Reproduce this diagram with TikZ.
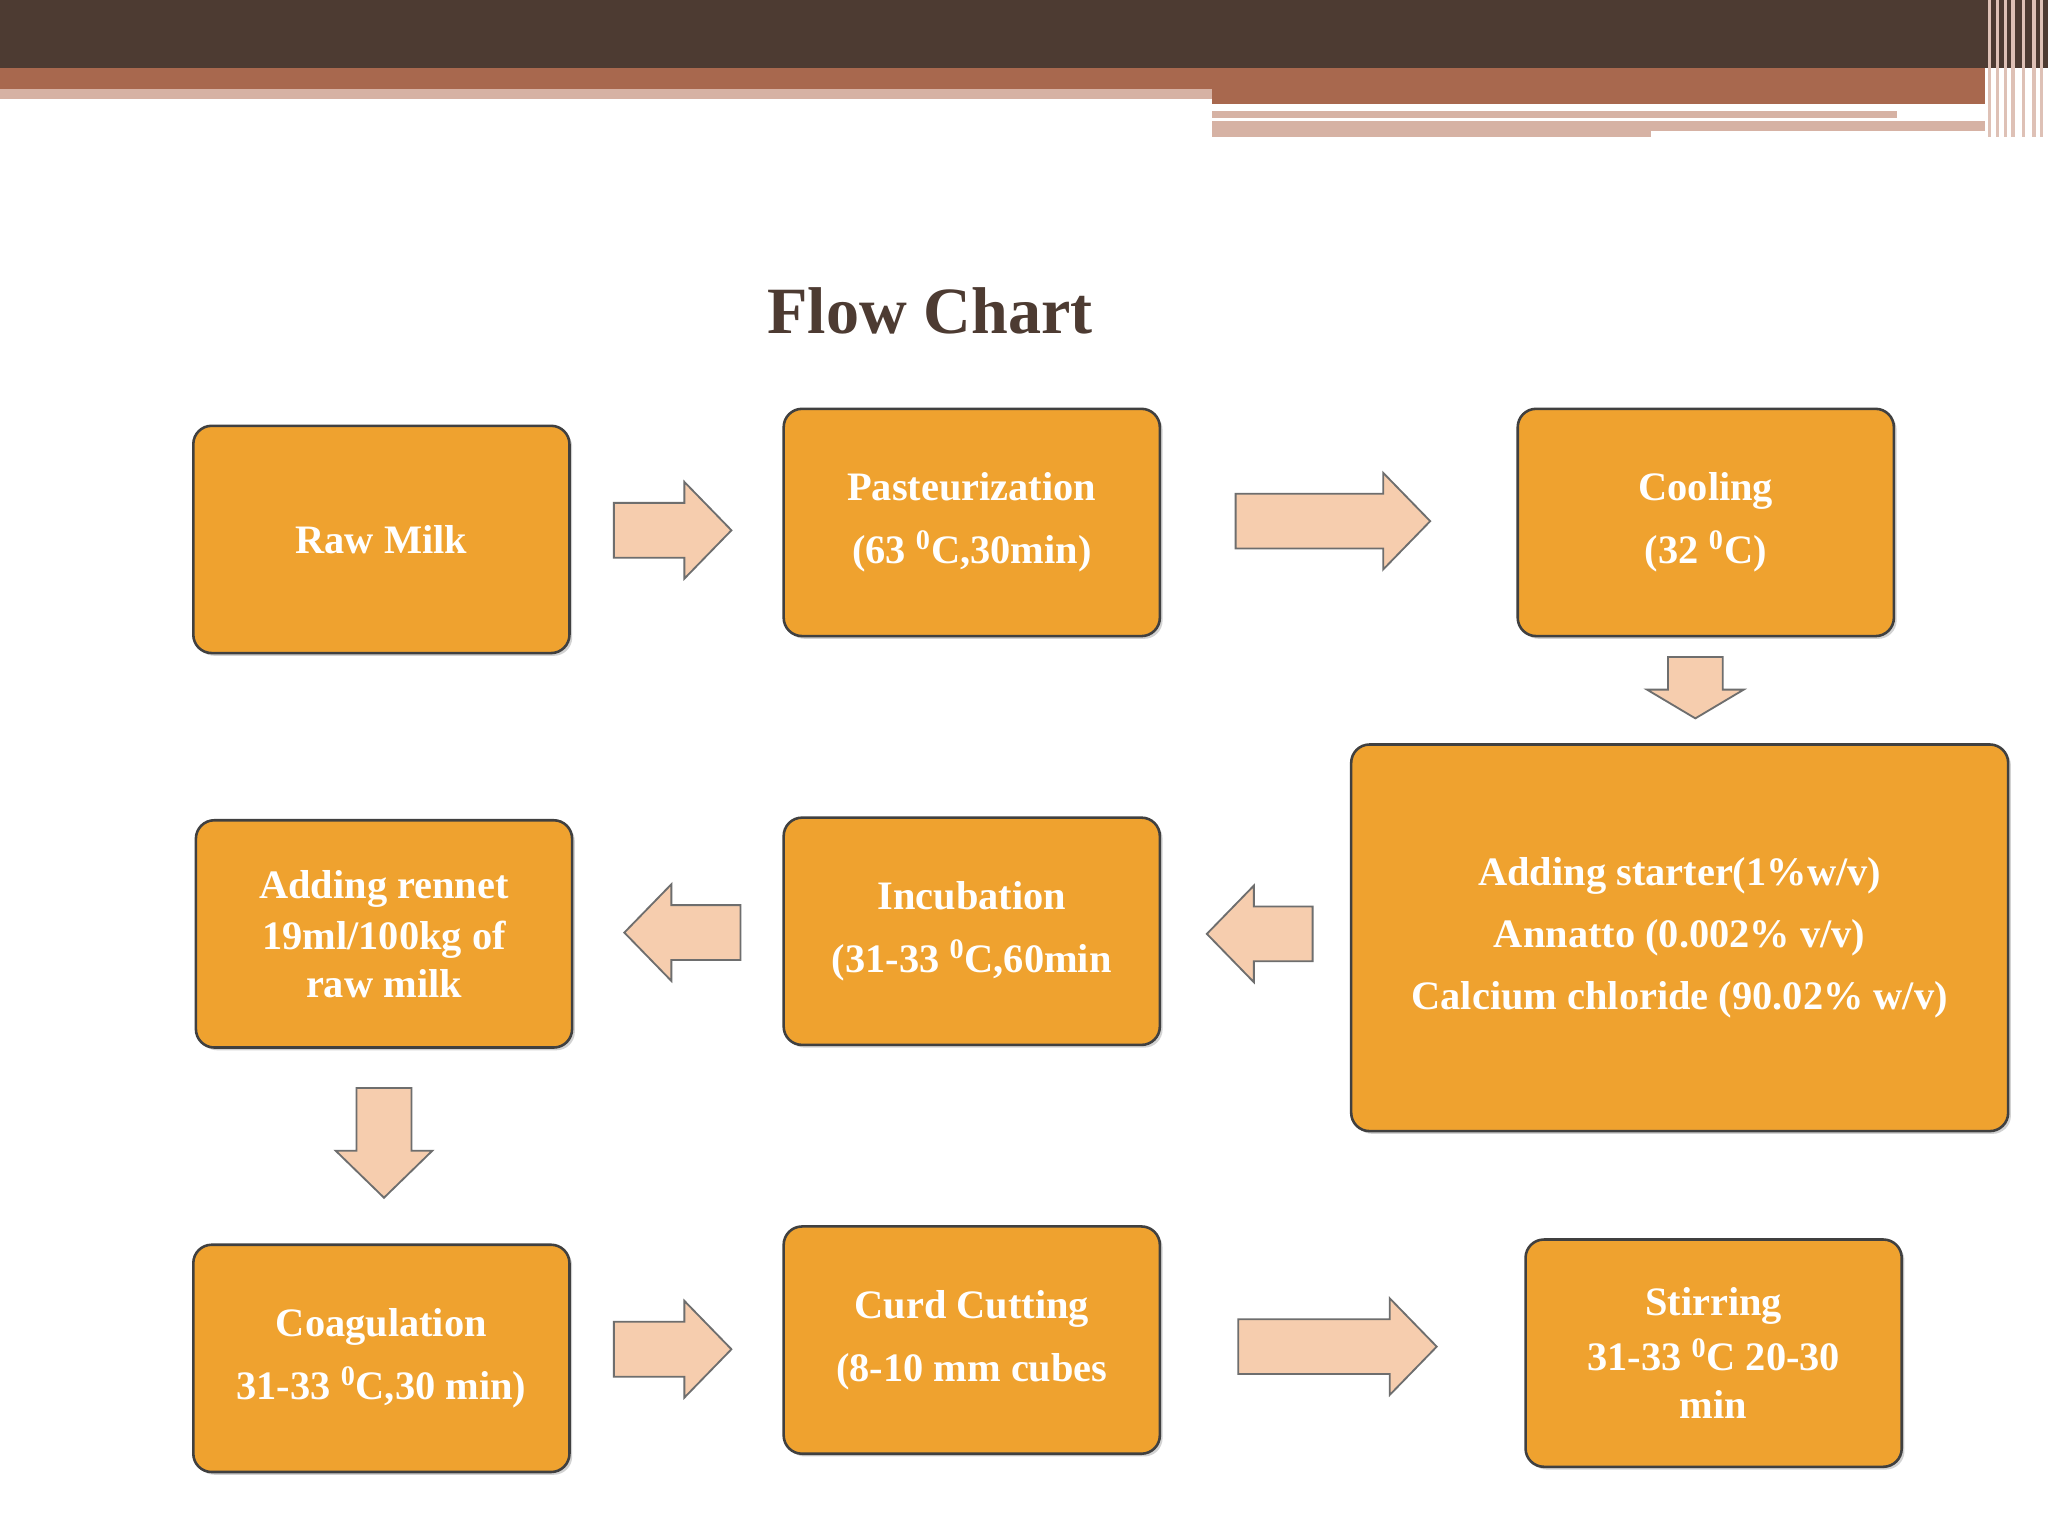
\documentclass[tikz,border=0pt]{standalone}
\usepackage{fontspec}
\setmainfont{Liberation Serif}
\usetikzlibrary{shadows}
\definecolor{dbrown}{HTML}{4D3B32}
\definecolor{rbrown}{HTML}{A8684E}
\definecolor{lbrown}{HTML}{D6B2A4}
\definecolor{boxo}{HTML}{EFA22F}
\definecolor{boxe}{HTML}{F7C96A}
\definecolor{arrf}{HTML}{F6CDAE}
\definecolor{arre}{HTML}{6E6E6E}
\tikzset{
  stepbox/.style={draw=black!75, line width=1.4pt, fill=boxo, rounded corners=10pt,
    drop shadow={shadow xshift=1.5pt, shadow yshift=-1.5pt, opacity=0.35},
    text=white, font=\bfseries\fontsize{22}{34}\selectfont, align=center, inner sep=0pt},
  blk/.style={draw=arre, line width=1pt, fill=arrf, line join=miter},
}
\newcommand\rarr[4]{% x1 x2 yc headlen
  \draw[blk] (#1,#3-21) -- (#2-#4,#3-21) -- (#2-#4,#3-37) -- (#2,#3) -- (#2-#4,#3+37) -- (#2-#4,#3+21) -- (#1,#3+21) -- cycle;}
\newcommand\larr[4]{%
  \draw[blk] (#2,#3-21) -- (#1+#4,#3-21) -- (#1+#4,#3-37) -- (#1,#3) -- (#1+#4,#3+37) -- (#1+#4,#3+21) -- (#2,#3+21) -- cycle;}
\newcommand\darr[4]{% xc y1 y2 headlen
  \draw[blk] (#1-21,#2) -- (#1-21,#3-#4) -- (#1-37,#3-#4) -- (#1,#3) -- (#1+37,#3-#4) -- (#1+21,#3-#4) -- (#1+21,#2) -- cycle;}
\begin{document}
\begin{tikzpicture}[x=0.25mm,y=-0.25mm]
\useasboundingbox (0,0) rectangle (1568,1176);
\fill[white] (0,0) rectangle (1568,1176);
% top bar
\fill[dbrown] (0,0) rectangle (1568,52);
\fill[rbrown] (0,52) rectangle (1520,68);
\fill[lbrown] (0,68) rectangle (928,76);
\fill[rbrown] (928,68) rectangle (1520,80);
\fill[lbrown] (928,85) rectangle (1452,90);
\fill[lbrown] (928,93) rectangle (1520,105);
\fill[white] (1264,100) rectangle (1520,106);
\foreach \x in {1522,1528,1534,1540,1548,1556,1562}
  \fill[lbrown!80!white] (\x,0) rectangle (\x+2.5,105);
% title
\node[text=dbrown, font=\bfseries\fontsize{36}{40}\selectfont] (title) at (712,238) {Flow Chart};
% boxes
\node[stepbox, minimum width=72mm, minimum height=43.5mm] (raw) at (292,413) {Raw Milk};
\node[stepbox, minimum width=72mm, minimum height=43.5mm] (past) at (744,400) {Pasteurization\\(63 \textsuperscript{0}C,30min)};
\node[stepbox, minimum width=72mm, minimum height=43.5mm] (cool) at (1306,400) {Cooling\\(32 \textsuperscript{0}C)};
\node[stepbox, minimum width=125.75mm, minimum height=74mm] (start) at (1286,718) {Adding starter(1\%w/v)\\Annatto (0.002\% v/v)\\Calcium chloride (90.02\% w/v)};
\node[stepbox, minimum width=72mm, minimum height=43.5mm] (inc) at (744,713) {Incubation\\(31-33 \textsuperscript{0}C,60min};
\node[stepbox, minimum width=72mm, minimum height=43.5mm, font=\bfseries\fontsize{22}{26}\selectfont] (ren) at (294,715) {Adding rennet\\[2pt]19ml/100kg of\\raw milk};
\node[stepbox, minimum width=72mm, minimum height=43.5mm] (coag) at (292,1040) {Coagulation\\31-33 \textsuperscript{0}C,30 min)};
\node[stepbox, minimum width=72mm, minimum height=43.5mm] (curd) at (744,1026) {Curd Cutting\\(8-10 mm cubes};
\node[stepbox, minimum width=72mm, minimum height=43.5mm, font=\bfseries\fontsize{22}{26}\selectfont] (stir) at (1312,1036) {Stirring\\[4pt]31-33 \textsuperscript{0}C 20-30\\min};
% arrows
\rarr{470}{560}{406}{36}
\rarr{946}{1095}{399}{36}
\darr{1298}{503}{550}{22}
\larr{924}{1005}{715}{36}
\larr{478}{567}{714}{36}
\darr{294}{833}{917}{36}
\rarr{470}{560}{1033}{36}
\rarr{948}{1100}{1031}{36}
\end{tikzpicture}
\end{document}
